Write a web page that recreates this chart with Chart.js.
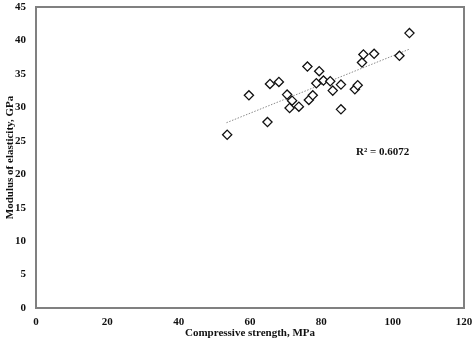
<!DOCTYPE html>
<html>
<head>
<meta charset="utf-8">
<script src="https://cdn.jsdelivr.net/npm/chart.js@4/dist/chart.umd.min.js"></script>
<style>
  html, body { margin: 0; padding: 0; background: #fff; }
  #wrap { width: 474px; height: 344px; }
</style>
</head>
<body>
<div id="wrap"><canvas id="chart" width="474" height="344"></canvas></div>
<script>
  // measured points (compressive strength MPa, modulus GPa)
  const strength = [53.6, 59.7, 64.9, 65.6, 68.1, 70.4, 71.8, 71.1, 73.7, 76.1, 76.5, 77.6, 78.6, 79.4, 80.6, 82.5, 83.2, 85.5, 85.5, 89.4, 90.2, 91.4, 91.8, 94.8, 101.9, 104.7];
  const modulus = [25.9, 31.8, 27.8, 33.5, 33.8, 31.9, 31.0, 29.9, 30.1, 36.1, 31.1, 31.8, 33.6, 35.4, 34.0, 33.9, 32.5, 33.4, 29.7, 32.7, 33.3, 36.7, 37.9, 38.0, 37.7, 41.1];

  // linear trend line ends
  const trendX = [53.4, 104.7];
  const trendY = [27.7, 38.7];

  const xTicks = [0, 20, 40, 60, 80, 100, 120];
  const yTicks = [0, 5, 10, 15, 20, 25, 30, 35, 40, 45];

  const rSquared = "R² = 0.6072";
  const rPos = { x: 97.2, y: 23.3 };

  const serif = "'Liberation Serif', 'Times New Roman', serif";
  const tickFont = { family: serif, size: 11, weight: "bold" };

  const boxPlugin = {
    id: "box",
    afterDraw(chart) {
      const { ctx, chartArea, scales } = chart;
      ctx.save();
      ctx.strokeStyle = "#808080";
      ctx.lineWidth = 2;
      ctx.strokeRect(chartArea.left, chartArea.top, chartArea.right - chartArea.left, chartArea.bottom - chartArea.top);
      ctx.fillStyle = "#111";
      ctx.font = "bold 11px " + serif;
      ctx.textAlign = "center";
      ctx.textBaseline = "middle";
      ctx.fillText(rSquared, scales.x.getPixelForValue(rPos.x), scales.y.getPixelForValue(rPos.y));
      ctx.restore();
    },
  };

  new Chart(document.getElementById("chart"), {
    type: "scatter",
    data: {
      datasets: [
        {
          data: strength.map((x, i) => ({ x, y: modulus[i] })),
          pointStyle: "rectRot",
          pointRadius: 4.6,
          pointBackgroundColor: "#fff",
          pointBorderColor: "#111",
          pointBorderWidth: 1.3,
          showLine: false,
          order: 1,
        },
        {
          data: trendX.map((x, i) => ({ x, y: trendY[i] })),
          showLine: true,
          borderColor: "#8a8a8a",
          borderWidth: 1,
          borderDash: [1.5, 1.5],
          pointRadius: 0,
          order: 2,
        },
      ],
    },
    options: {
      responsive: false,
      animation: false,
      layout: { padding: { top: 7, right: 10 } },
      plugins: {
        legend: { display: false },
        tooltip: { enabled: false },
      },
      scales: {
        x: {
          type: "linear",
          min: 0,
          max: 120,
          afterBuildTicks: (s) => { s.ticks = xTicks.map((v) => ({ value: v })); },
          afterFit: (s) => {
            s.height = 36;
            s.paddingLeft = 0;
            s.paddingRight = 0;
          },
          grid: { display: false, drawTicks: false },
          border: { display: false },
          ticks: { font: tickFont, color: "#111", padding: 8, maxRotation: 0 },
          title: {
            display: true,
            text: "Compressive strength, MPa",
            font: tickFont,
            color: "#111",
            padding: { top: 0, bottom: 4 },
          },
        },
        y: {
          type: "linear",
          min: 0,
          max: 45,
          afterBuildTicks: (s) => { s.ticks = yTicks.map((v) => ({ value: v })); },
          afterFit: (s) => {
            s.width = 36;
            s.paddingTop = 0;
            s.paddingBottom = 0;
          },
          grid: { display: false, drawTicks: false },
          border: { display: false },
          ticks: { font: tickFont, color: "#111", padding: 10 },
          title: {
            display: true,
            text: "Modulus of elasticity, GPa",
            font: tickFont,
            color: "#111",
            padding: { top: 4, bottom: 0 },
          },
        },
      },
    },
    plugins: [boxPlugin],
  });
</script>
</body>
</html>
